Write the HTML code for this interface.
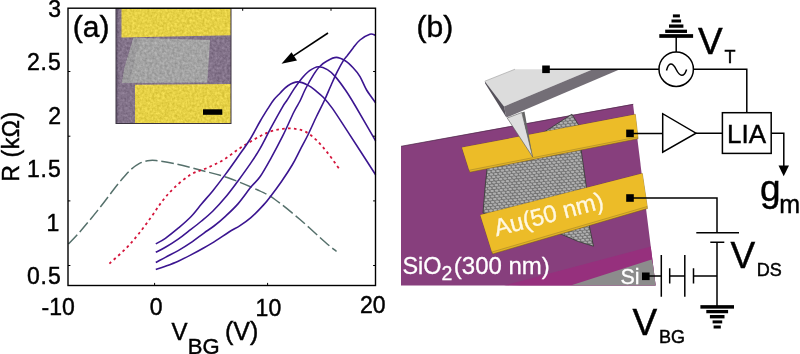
<!DOCTYPE html>
<html><head><meta charset="utf-8"><title>figure</title>
<style>html,body{margin:0;padding:0;background:#fff;}body{width:800px;height:354px;overflow:hidden;}svg{display:block;}</style>
</head><body>
<svg width="800" height="354" viewBox="0 0 800 354" font-family="'Liberation Sans', Arial, Helvetica, sans-serif">
<defs>
<filter id="noise" x="0" y="0" width="100%" height="100%" color-interpolation-filters="sRGB">
<feTurbulence type="fractalNoise" baseFrequency="0.4" numOctaves="2" seed="3" result="n"/>
<feColorMatrix in="n" type="matrix" values="1 0 0 0 0  1 0 0 0 0  1 0 0 0 0  0 0 0 0 1" result="g"/>
<feComposite in="SourceGraphic" in2="g" operator="arithmetic" k1="0" k2="1" k3="0.22" k4="-0.11"/>
</filter>
<clipPath id="insetclip"><rect x="116" y="8" width="115" height="115.5"/></clipPath>
<clipPath id="slabclip"><polygon points="401,146.2 633,104 655.6,285.5 401,285.5"/></clipPath>
</defs>
<style>text{stroke:#000;stroke-width:0.45px;paint-order:stroke;} text.w{stroke:#fff;stroke-width:0.3px;}</style>
<rect width="800" height="354" fill="#fff"/>
<g clip-path="url(#insetclip)" filter="url(#noise)">
<rect x="116" y="8" width="115" height="116" fill="#83738a"/>
<polygon points="121.5,8 231,8 231,35.2 121.5,37.6" fill="#e6d146"/>
<polygon points="133.6,37.8 210,40 207.3,82.5 122,83 124.5,68" fill="#a4a4a4"/>
<polygon points="133.6,37.8 140,38 129.5,83 122,83 124.5,68" fill="#9b9a9c"/>
<rect x="116" y="8" width="2.2" height="116" fill="#6f6078"/>
<polygon points="135,84.7 231,84 231,124 135,124" fill="#e6d146"/>
</g>
<rect x="116" y="8.5" width="115" height="115" fill="none" stroke="#3a3340" stroke-width="1"/>
<rect x="203" y="109.3" width="19.3" height="5.5" fill="#000"/>
<path d="M68.5,244.0 C70.4,242.0 76.5,235.6 79.8,231.9 C83.1,228.2 85.4,225.4 88.2,222.0 C91.0,218.6 93.9,215.1 96.7,211.6 C99.5,208.1 102.4,204.5 105.2,200.8 C108.0,197.1 110.9,193.1 113.7,189.5 C116.5,185.9 119.3,182.4 122.1,179.1 C124.9,175.8 127.8,172.4 130.6,169.8 C133.4,167.2 136.3,165.1 139.1,163.6 C141.9,162.1 144.8,161.2 147.6,160.7 C150.4,160.2 151.6,160.0 156.0,160.5 C160.4,161.0 166.5,161.9 174.0,163.5 C181.5,165.1 192.0,167.9 201.0,170.3 C210.0,172.7 218.5,174.5 228.0,177.8 C237.5,181.1 250.0,186.4 257.8,190.0 C265.6,193.6 268.0,194.6 275.0,199.5 C282.0,204.4 291.7,212.4 300.0,219.5 C308.3,226.6 318.9,236.7 325.0,242.0 C331.1,247.3 334.6,249.9 336.5,251.5" fill="none" stroke="#55706b" stroke-width="1.5" stroke-dasharray="12.5 3.8"/>
<path d="M109.4,263.6 C112.1,261.2 120.6,253.8 125.4,249.0 C130.2,244.2 133.9,239.8 138.2,234.5 C142.4,229.2 146.9,223.0 150.9,217.5 C154.9,212.0 158.2,206.4 162.0,201.5 C165.8,196.6 169.2,192.5 174.0,188.0 C178.8,183.5 185.5,177.7 191.0,174.4 C196.5,171.1 201.5,170.5 207.0,168.0 C212.5,165.5 218.4,162.9 224.0,159.5 C229.6,156.1 234.8,151.5 240.8,147.6 C246.8,143.7 254.9,138.9 260.0,136.2 C265.1,133.5 267.5,132.4 271.3,131.2 C275.1,130.0 278.8,129.3 282.6,128.9 C286.4,128.5 290.1,128.2 293.9,128.7 C297.7,129.1 301.4,129.7 305.2,131.6 C309.0,133.5 312.7,136.6 316.5,140.2 C320.3,143.8 324.0,148.3 327.8,153.1 C331.6,157.9 337.5,166.5 339.4,169.2" fill="none" stroke="#d4143a" stroke-width="1.8" stroke-dasharray="2.6 3.3"/>
<path d="M155.8,243.9 C157.4,243.0 161.7,240.9 165.4,238.3 C169.1,235.7 173.9,231.8 178.2,228.2 C182.4,224.6 187.0,220.7 190.9,216.7 C194.8,212.7 197.9,208.3 201.5,204.0 C205.1,199.7 208.7,195.8 212.7,190.9 C216.7,186.0 221.2,180.1 225.4,174.4 C229.7,168.7 234.2,162.2 238.2,156.5 C242.2,150.8 246.0,145.8 249.6,140.0 C253.2,134.2 256.8,127.0 260.0,121.5 C263.2,116.0 266.7,110.5 269.0,106.8 C271.3,103.1 272.2,101.8 274.0,99.5 C275.8,97.2 277.7,95.5 280.0,93.2 C282.3,90.9 284.9,87.6 287.9,85.7 C290.9,83.8 294.5,82.0 297.8,81.9 C301.1,81.8 304.7,83.6 307.7,85.1 C310.7,86.5 313.0,88.5 315.6,90.6 C318.2,92.7 320.7,94.5 323.5,97.5 C326.3,100.5 328.3,102.6 332.4,108.4 C336.5,114.2 341.0,121.4 348.2,132.4 C355.4,143.4 371.0,167.6 375.6,174.7" fill="none" stroke="#3b1590" stroke-width="1.6"/>
<path d="M155.8,252.3 C157.4,251.5 161.7,249.5 165.4,247.3 C169.1,245.1 173.9,242.1 178.2,239.1 C182.4,236.1 187.0,232.4 190.9,229.4 C194.8,226.4 197.9,224.0 201.5,221.0 C205.1,218.0 208.7,215.1 212.7,211.2 C216.7,207.2 221.2,202.4 225.4,197.3 C229.7,192.2 233.9,186.4 238.2,180.7 C242.4,175.0 247.3,168.2 250.9,162.9 C254.5,157.6 256.6,154.6 260.0,148.6 C263.4,142.6 267.5,134.1 271.3,127.1 C275.1,120.1 280.1,111.1 282.6,106.8 C285.1,102.5 284.6,103.9 286.5,101.0 C288.4,98.1 291.3,93.2 293.8,89.4 C296.3,85.7 299.1,81.6 301.7,78.5 C304.3,75.4 306.8,72.6 309.6,70.6 C312.4,68.6 315.5,66.9 318.5,66.7 C321.5,66.5 324.6,67.9 327.4,69.6 C330.2,71.2 332.3,73.2 335.3,76.6 C338.3,80.0 342.1,85.2 345.4,90.0 C348.7,94.8 350.1,97.0 355.1,105.5 C360.1,114.0 372.2,134.9 375.6,140.8" fill="none" stroke="#3b1590" stroke-width="1.6"/>
<path d="M155.8,262.5 C157.4,261.6 161.7,259.4 165.4,257.4 C169.1,255.4 173.9,253.0 178.2,250.6 C182.4,248.2 186.7,245.6 190.9,242.7 C195.1,239.8 199.8,236.1 203.6,233.3 C207.4,230.5 210.4,228.8 214.0,226.0 C217.6,223.2 221.4,220.0 225.4,216.3 C229.4,212.6 233.9,208.5 238.2,203.6 C242.4,198.7 247.3,191.6 250.9,187.1 C254.5,182.6 256.6,181.7 260.0,176.8 C263.4,171.9 267.5,164.4 271.3,157.6 C275.1,150.8 278.8,143.8 282.6,136.2 C286.4,128.6 291.0,117.9 293.9,112.0 C296.8,106.1 298.0,104.9 300.0,101.0 C302.0,97.1 303.4,92.9 305.7,88.5 C308.0,84.1 311.3,78.2 313.6,74.6 C315.9,71.0 317.2,69.0 319.5,66.7 C321.8,64.4 324.6,62.3 327.4,60.8 C330.2,59.2 333.3,57.4 336.3,57.4 C339.3,57.4 342.4,59.1 345.2,60.8 C348.0,62.5 350.6,65.1 353.1,67.7 C355.6,70.3 357.8,72.9 360.0,76.6 C362.2,80.3 364.0,85.7 366.6,90.0 C369.2,94.3 374.1,100.6 375.6,102.7" fill="none" stroke="#3b1590" stroke-width="1.6"/>
<path d="M155.8,269.4 C157.4,268.9 161.7,267.7 165.4,266.3 C169.1,264.9 173.9,263.1 178.2,261.2 C182.4,259.3 186.7,257.1 190.9,254.9 C195.1,252.7 199.4,250.4 203.6,248.0 C207.8,245.6 212.1,243.1 216.3,240.4 C220.5,237.7 225.1,234.5 229.0,232.0 C232.9,229.5 236.3,228.0 240.0,225.6 C243.7,223.2 247.0,221.0 250.9,217.6 C254.8,214.2 260.1,208.8 263.6,204.9 C267.1,201.1 269.0,198.4 272.0,194.5 C275.0,190.6 278.1,186.4 281.5,181.5 C284.9,176.6 289.1,170.2 292.2,165.0 C295.3,159.8 297.4,155.1 300.0,150.1 C302.6,145.1 305.1,140.6 307.9,135.0 C310.6,129.4 313.8,122.2 316.5,116.5 C319.2,110.8 321.9,105.8 324.4,100.5 C326.9,95.2 329.2,89.3 331.4,84.5 C333.5,79.7 335.3,75.5 337.3,71.6 C339.3,67.6 341.6,63.4 343.2,60.8 C344.8,58.2 345.5,57.9 347.2,55.8 C348.9,53.6 351.0,50.5 353.1,47.9 C355.2,45.3 357.2,42.3 360.0,40.0 C362.8,37.7 367.3,35.0 369.9,34.2 C372.5,33.4 374.7,35.2 375.6,35.4" fill="none" stroke="#3b1590" stroke-width="1.6"/>
<rect x="68" y="8.2" width="307.5" height="277.3" fill="none" stroke="#000" stroke-width="1.4"/>
<path d="M68,71.5 h2.4 M375.5,71.5 h-2.4 M68,136.2 h2.4 M375.5,136.2 h-2.4 M68,200.9 h2.4 M375.5,200.9 h-2.4 M68,265.5 h2.4 M375.5,265.5 h-2.4 M154.6,285.5 v-2.6 M267.6,285.5 v-2.6 M242.7,8.2 v2.6 M331.0,8.2 v2.6" stroke="#000" stroke-width="1" fill="none"/>
<path d="M328,33 L290,58.2" stroke="#000" stroke-width="1.6" fill="none"/>
<polygon points="281.5,63.8 291.5,52.2 297,60.5" fill="#000"/>
<text x="61.0" y="17.3" font-size="23" text-anchor="end" letter-spacing="0.0">3</text>
<text x="61.6" y="70.4" font-size="23" text-anchor="end" letter-spacing="0.9">2.5</text>
<text x="61.0" y="124.0" font-size="23" text-anchor="end" letter-spacing="0.0">2</text>
<text x="61.6" y="177.4" font-size="23" text-anchor="end" letter-spacing="0.9">1.5</text>
<text x="59.2" y="230.8" font-size="23" text-anchor="end" letter-spacing="0.0">1</text>
<text x="61.6" y="284.3" font-size="23" text-anchor="end" letter-spacing="0.9">0.5</text>
<text x="58.2" y="315.0" font-size="23" text-anchor="middle">-10</text>
<text x="156.2" y="315.0" font-size="23" text-anchor="middle">0</text>
<text x="268.4" y="315.6" font-size="23" text-anchor="middle">10</text>
<text x="372.7" y="312.8" font-size="23" text-anchor="middle">20</text>
<text x="72.8" y="37" font-size="30">(a)</text>
<text transform="translate(19.2,181.8) rotate(-90)" font-size="23" letter-spacing="0.6">R (kΩ)</text>
<text x="171.5" y="339.8" font-size="24">V</text>
<text x="187.8" y="354" font-size="22">BG</text>
<text x="225" y="340" font-size="25">(V)</text>
<text x="416.5" y="37" font-size="30">(b)</text>
<g clip-path="url(#slabclip)">
<rect x="395" y="100" width="270" height="190" fill="#873f7d"/>
<polygon points="651,246.5 504,285.5 660,290" fill="#96307d"/>
<polygon points="651.6,259.6 570.6,285.5 660,290" fill="#8c8c8c"/>
</g>
<path d="M401,146.3 L633.3,104.3" stroke="#4d2a49" stroke-width="0.7" fill="none"/>
<clipPath id="gclip"><polygon points="571.9,114.2 578.6,125.0 581.0,149.0 586.5,188.0 589.3,226.0 593.5,246.2 578.4,241.5 560.0,233.7 483.0,213.0 485.3,185.0 487.2,168.0 547.4,130.0"/></clipPath>
<polygon points="571.9,114.2 578.6,125.0 581.0,149.0 586.5,188.0 589.3,226.0 593.5,246.2 578.4,241.5 560.0,233.7 483.0,213.0 485.3,185.0 487.2,168.0 547.4,130.0" fill="#727272"/>
<path clip-path="url(#gclip)" d="M569.94,113.67l1,-1.1h2l1,1.1l-1,1.1h-2zM563.33,117.11l1,-1.1h2l1,1.1l-1,1.1h-2zM567.83,116.66l1,-1.1h2l1,1.1l-1,1.1h-2zM572.33,116.21l1,-1.1h2l1,1.1l-1,1.1h-2zM561.22,120.09l1,-1.1h2l1,1.1l-1,1.1h-2zM565.72,119.65l1,-1.1h2l1,1.1l-1,1.1h-2zM570.22,119.19l1,-1.1h2l1,1.1l-1,1.1h-2zM554.60,123.53l1,-1.1h2l1,1.1l-1,1.1h-2zM559.10,123.08l1,-1.1h2l1,1.1l-1,1.1h-2zM563.60,122.63l1,-1.1h2l1,1.1l-1,1.1h-2zM568.10,122.18l1,-1.1h2l1,1.1l-1,1.1h-2zM572.60,121.73l1,-1.1h2l1,1.1l-1,1.1h-2zM547.99,126.97l1,-1.1h2l1,1.1l-1,1.1h-2zM552.49,126.51l1,-1.1h2l1,1.1l-1,1.1h-2zM556.99,126.06l1,-1.1h2l1,1.1l-1,1.1h-2zM561.49,125.62l1,-1.1h2l1,1.1l-1,1.1h-2zM565.99,125.16l1,-1.1h2l1,1.1l-1,1.1h-2zM570.49,124.72l1,-1.1h2l1,1.1l-1,1.1h-2zM574.99,124.26l1,-1.1h2l1,1.1l-1,1.1h-2zM545.88,129.95l1,-1.1h2l1,1.1l-1,1.1h-2zM550.38,129.50l1,-1.1h2l1,1.1l-1,1.1h-2zM554.88,129.05l1,-1.1h2l1,1.1l-1,1.1h-2zM559.38,128.60l1,-1.1h2l1,1.1l-1,1.1h-2zM563.88,128.15l1,-1.1h2l1,1.1l-1,1.1h-2zM568.38,127.70l1,-1.1h2l1,1.1l-1,1.1h-2zM539.27,133.38l1,-1.1h2l1,1.1l-1,1.1h-2zM562.87,153.22l1,-1.1h2l1,1.1l-1,1.1h-2zM567.37,152.76l1,-1.1h2l1,1.1l-1,1.1h-2zM571.87,152.31l1,-1.1h2l1,1.1l-1,1.1h-2zM576.37,151.87l1,-1.1h2l1,1.1l-1,1.1h-2zM533.76,158.90l1,-1.1h2l1,1.1l-1,1.1h-2zM538.26,158.45l1,-1.1h2l1,1.1l-1,1.1h-2zM542.76,158.00l1,-1.1h2l1,1.1l-1,1.1h-2zM547.26,157.55l1,-1.1h2l1,1.1l-1,1.1h-2zM551.76,157.10l1,-1.1h2l1,1.1l-1,1.1h-2zM556.26,156.65l1,-1.1h2l1,1.1l-1,1.1h-2zM560.76,156.20l1,-1.1h2l1,1.1l-1,1.1h-2zM565.26,155.75l1,-1.1h2l1,1.1l-1,1.1h-2zM569.76,155.30l1,-1.1h2l1,1.1l-1,1.1h-2zM574.26,154.85l1,-1.1h2l1,1.1l-1,1.1h-2zM578.76,154.40l1,-1.1h2l1,1.1l-1,1.1h-2zM504.65,164.58l1,-1.1h2l1,1.1l-1,1.1h-2zM509.15,164.13l1,-1.1h2l1,1.1l-1,1.1h-2zM513.65,163.69l1,-1.1h2l1,1.1l-1,1.1h-2zM518.15,163.24l1,-1.1h2l1,1.1l-1,1.1h-2zM522.65,162.78l1,-1.1h2l1,1.1l-1,1.1h-2zM527.15,162.33l1,-1.1h2l1,1.1l-1,1.1h-2zM531.65,161.88l1,-1.1h2l1,1.1l-1,1.1h-2zM536.15,161.44l1,-1.1h2l1,1.1l-1,1.1h-2zM540.65,160.99l1,-1.1h2l1,1.1l-1,1.1h-2zM545.15,160.53l1,-1.1h2l1,1.1l-1,1.1h-2zM549.65,160.08l1,-1.1h2l1,1.1l-1,1.1h-2zM554.15,159.63l1,-1.1h2l1,1.1l-1,1.1h-2zM558.65,159.19l1,-1.1h2l1,1.1l-1,1.1h-2zM563.15,158.74l1,-1.1h2l1,1.1l-1,1.1h-2zM567.65,158.28l1,-1.1h2l1,1.1l-1,1.1h-2zM572.15,157.83l1,-1.1h2l1,1.1l-1,1.1h-2zM576.65,157.38l1,-1.1h2l1,1.1l-1,1.1h-2zM581.15,156.94l1,-1.1h2l1,1.1l-1,1.1h-2zM484.54,169.37l1,-1.1h2l1,1.1l-1,1.1h-2zM489.04,168.92l1,-1.1h2l1,1.1l-1,1.1h-2zM493.54,168.47l1,-1.1h2l1,1.1l-1,1.1h-2zM498.04,168.02l1,-1.1h2l1,1.1l-1,1.1h-2zM502.54,167.57l1,-1.1h2l1,1.1l-1,1.1h-2zM507.04,167.12l1,-1.1h2l1,1.1l-1,1.1h-2zM511.54,166.67l1,-1.1h2l1,1.1l-1,1.1h-2zM516.04,166.22l1,-1.1h2l1,1.1l-1,1.1h-2zM520.54,165.77l1,-1.1h2l1,1.1l-1,1.1h-2zM525.04,165.32l1,-1.1h2l1,1.1l-1,1.1h-2zM529.54,164.87l1,-1.1h2l1,1.1l-1,1.1h-2zM534.04,164.42l1,-1.1h2l1,1.1l-1,1.1h-2zM538.54,163.97l1,-1.1h2l1,1.1l-1,1.1h-2zM543.04,163.52l1,-1.1h2l1,1.1l-1,1.1h-2zM547.54,163.07l1,-1.1h2l1,1.1l-1,1.1h-2zM552.04,162.62l1,-1.1h2l1,1.1l-1,1.1h-2zM556.54,162.17l1,-1.1h2l1,1.1l-1,1.1h-2zM561.04,161.72l1,-1.1h2l1,1.1l-1,1.1h-2zM565.54,161.27l1,-1.1h2l1,1.1l-1,1.1h-2zM570.04,160.82l1,-1.1h2l1,1.1l-1,1.1h-2zM574.54,160.37l1,-1.1h2l1,1.1l-1,1.1h-2zM579.04,159.92l1,-1.1h2l1,1.1l-1,1.1h-2zM486.92,171.91l1,-1.1h2l1,1.1l-1,1.1h-2zM491.42,171.45l1,-1.1h2l1,1.1l-1,1.1h-2zM495.92,171.00l1,-1.1h2l1,1.1l-1,1.1h-2zM500.42,170.56l1,-1.1h2l1,1.1l-1,1.1h-2zM504.92,170.10l1,-1.1h2l1,1.1l-1,1.1h-2zM509.42,169.66l1,-1.1h2l1,1.1l-1,1.1h-2zM513.92,169.20l1,-1.1h2l1,1.1l-1,1.1h-2zM518.42,168.75l1,-1.1h2l1,1.1l-1,1.1h-2zM522.92,168.31l1,-1.1h2l1,1.1l-1,1.1h-2zM527.42,167.85l1,-1.1h2l1,1.1l-1,1.1h-2zM531.92,167.41l1,-1.1h2l1,1.1l-1,1.1h-2zM536.42,166.95l1,-1.1h2l1,1.1l-1,1.1h-2zM540.92,166.50l1,-1.1h2l1,1.1l-1,1.1h-2zM545.42,166.06l1,-1.1h2l1,1.1l-1,1.1h-2zM549.92,165.60l1,-1.1h2l1,1.1l-1,1.1h-2zM554.42,165.16l1,-1.1h2l1,1.1l-1,1.1h-2zM558.92,164.70l1,-1.1h2l1,1.1l-1,1.1h-2zM563.42,164.25l1,-1.1h2l1,1.1l-1,1.1h-2zM567.92,163.81l1,-1.1h2l1,1.1l-1,1.1h-2zM572.42,163.35l1,-1.1h2l1,1.1l-1,1.1h-2zM576.92,162.91l1,-1.1h2l1,1.1l-1,1.1h-2zM581.42,162.45l1,-1.1h2l1,1.1l-1,1.1h-2zM484.81,174.89l1,-1.1h2l1,1.1l-1,1.1h-2zM489.31,174.44l1,-1.1h2l1,1.1l-1,1.1h-2zM493.81,173.99l1,-1.1h2l1,1.1l-1,1.1h-2zM498.31,173.54l1,-1.1h2l1,1.1l-1,1.1h-2zM502.81,173.09l1,-1.1h2l1,1.1l-1,1.1h-2zM507.31,172.64l1,-1.1h2l1,1.1l-1,1.1h-2zM511.81,172.19l1,-1.1h2l1,1.1l-1,1.1h-2zM516.31,171.74l1,-1.1h2l1,1.1l-1,1.1h-2zM520.81,171.29l1,-1.1h2l1,1.1l-1,1.1h-2zM525.31,170.84l1,-1.1h2l1,1.1l-1,1.1h-2zM529.81,170.39l1,-1.1h2l1,1.1l-1,1.1h-2zM534.31,169.94l1,-1.1h2l1,1.1l-1,1.1h-2zM538.81,169.49l1,-1.1h2l1,1.1l-1,1.1h-2zM543.31,169.04l1,-1.1h2l1,1.1l-1,1.1h-2zM547.81,168.59l1,-1.1h2l1,1.1l-1,1.1h-2zM552.31,168.14l1,-1.1h2l1,1.1l-1,1.1h-2zM556.81,167.69l1,-1.1h2l1,1.1l-1,1.1h-2zM561.31,167.24l1,-1.1h2l1,1.1l-1,1.1h-2zM565.81,166.79l1,-1.1h2l1,1.1l-1,1.1h-2zM570.31,166.34l1,-1.1h2l1,1.1l-1,1.1h-2zM574.81,165.89l1,-1.1h2l1,1.1l-1,1.1h-2zM579.31,165.44l1,-1.1h2l1,1.1l-1,1.1h-2zM487.20,177.43l1,-1.1h2l1,1.1l-1,1.1h-2zM491.70,176.97l1,-1.1h2l1,1.1l-1,1.1h-2zM496.20,176.53l1,-1.1h2l1,1.1l-1,1.1h-2zM500.70,176.07l1,-1.1h2l1,1.1l-1,1.1h-2zM505.20,175.62l1,-1.1h2l1,1.1l-1,1.1h-2zM509.70,175.18l1,-1.1h2l1,1.1l-1,1.1h-2zM514.20,174.72l1,-1.1h2l1,1.1l-1,1.1h-2zM518.70,174.28l1,-1.1h2l1,1.1l-1,1.1h-2zM523.20,173.82l1,-1.1h2l1,1.1l-1,1.1h-2zM527.70,173.38l1,-1.1h2l1,1.1l-1,1.1h-2zM532.20,172.93l1,-1.1h2l1,1.1l-1,1.1h-2zM536.70,172.47l1,-1.1h2l1,1.1l-1,1.1h-2zM541.20,172.03l1,-1.1h2l1,1.1l-1,1.1h-2zM545.70,171.57l1,-1.1h2l1,1.1l-1,1.1h-2zM550.20,171.12l1,-1.1h2l1,1.1l-1,1.1h-2zM554.70,170.68l1,-1.1h2l1,1.1l-1,1.1h-2zM559.20,170.22l1,-1.1h2l1,1.1l-1,1.1h-2zM563.70,169.78l1,-1.1h2l1,1.1l-1,1.1h-2zM568.20,169.32l1,-1.1h2l1,1.1l-1,1.1h-2zM572.70,168.88l1,-1.1h2l1,1.1l-1,1.1h-2zM577.20,168.43l1,-1.1h2l1,1.1l-1,1.1h-2zM581.70,167.97l1,-1.1h2l1,1.1l-1,1.1h-2zM485.09,180.41l1,-1.1h2l1,1.1l-1,1.1h-2zM489.59,179.96l1,-1.1h2l1,1.1l-1,1.1h-2zM494.09,179.51l1,-1.1h2l1,1.1l-1,1.1h-2zM498.59,179.06l1,-1.1h2l1,1.1l-1,1.1h-2zM503.09,178.61l1,-1.1h2l1,1.1l-1,1.1h-2zM507.59,178.16l1,-1.1h2l1,1.1l-1,1.1h-2zM512.09,177.71l1,-1.1h2l1,1.1l-1,1.1h-2zM516.59,177.26l1,-1.1h2l1,1.1l-1,1.1h-2zM521.09,176.81l1,-1.1h2l1,1.1l-1,1.1h-2zM525.59,176.36l1,-1.1h2l1,1.1l-1,1.1h-2zM530.09,175.91l1,-1.1h2l1,1.1l-1,1.1h-2zM534.59,175.46l1,-1.1h2l1,1.1l-1,1.1h-2zM539.09,175.01l1,-1.1h2l1,1.1l-1,1.1h-2zM543.59,174.56l1,-1.1h2l1,1.1l-1,1.1h-2zM548.09,174.11l1,-1.1h2l1,1.1l-1,1.1h-2zM552.59,173.66l1,-1.1h2l1,1.1l-1,1.1h-2zM557.09,173.21l1,-1.1h2l1,1.1l-1,1.1h-2zM561.59,172.76l1,-1.1h2l1,1.1l-1,1.1h-2zM566.09,172.31l1,-1.1h2l1,1.1l-1,1.1h-2zM570.59,171.86l1,-1.1h2l1,1.1l-1,1.1h-2zM575.09,171.41l1,-1.1h2l1,1.1l-1,1.1h-2zM579.59,170.96l1,-1.1h2l1,1.1l-1,1.1h-2zM482.98,183.39l1,-1.1h2l1,1.1l-1,1.1h-2zM487.48,182.94l1,-1.1h2l1,1.1l-1,1.1h-2zM491.98,182.50l1,-1.1h2l1,1.1l-1,1.1h-2zM496.48,182.05l1,-1.1h2l1,1.1l-1,1.1h-2zM500.98,181.59l1,-1.1h2l1,1.1l-1,1.1h-2zM505.48,181.14l1,-1.1h2l1,1.1l-1,1.1h-2zM509.98,180.69l1,-1.1h2l1,1.1l-1,1.1h-2zM514.48,180.25l1,-1.1h2l1,1.1l-1,1.1h-2zM518.98,179.80l1,-1.1h2l1,1.1l-1,1.1h-2zM523.48,179.34l1,-1.1h2l1,1.1l-1,1.1h-2zM527.98,178.89l1,-1.1h2l1,1.1l-1,1.1h-2zM532.48,178.44l1,-1.1h2l1,1.1l-1,1.1h-2zM536.98,178.00l1,-1.1h2l1,1.1l-1,1.1h-2zM541.48,177.55l1,-1.1h2l1,1.1l-1,1.1h-2zM545.98,177.09l1,-1.1h2l1,1.1l-1,1.1h-2zM550.48,176.64l1,-1.1h2l1,1.1l-1,1.1h-2zM554.98,176.19l1,-1.1h2l1,1.1l-1,1.1h-2zM559.48,175.75l1,-1.1h2l1,1.1l-1,1.1h-2zM563.98,175.30l1,-1.1h2l1,1.1l-1,1.1h-2zM568.48,174.84l1,-1.1h2l1,1.1l-1,1.1h-2zM572.98,174.39l1,-1.1h2l1,1.1l-1,1.1h-2zM577.48,173.94l1,-1.1h2l1,1.1l-1,1.1h-2zM581.98,173.50l1,-1.1h2l1,1.1l-1,1.1h-2zM485.36,185.93l1,-1.1h2l1,1.1l-1,1.1h-2zM489.86,185.48l1,-1.1h2l1,1.1l-1,1.1h-2zM494.36,185.03l1,-1.1h2l1,1.1l-1,1.1h-2zM498.86,184.58l1,-1.1h2l1,1.1l-1,1.1h-2zM503.36,184.13l1,-1.1h2l1,1.1l-1,1.1h-2zM507.86,183.68l1,-1.1h2l1,1.1l-1,1.1h-2zM512.36,183.23l1,-1.1h2l1,1.1l-1,1.1h-2zM516.86,182.78l1,-1.1h2l1,1.1l-1,1.1h-2zM521.36,182.33l1,-1.1h2l1,1.1l-1,1.1h-2zM525.86,181.88l1,-1.1h2l1,1.1l-1,1.1h-2zM530.36,181.43l1,-1.1h2l1,1.1l-1,1.1h-2zM534.86,180.98l1,-1.1h2l1,1.1l-1,1.1h-2zM539.36,180.53l1,-1.1h2l1,1.1l-1,1.1h-2zM543.86,180.08l1,-1.1h2l1,1.1l-1,1.1h-2zM548.36,179.63l1,-1.1h2l1,1.1l-1,1.1h-2zM552.86,179.18l1,-1.1h2l1,1.1l-1,1.1h-2zM557.36,178.73l1,-1.1h2l1,1.1l-1,1.1h-2zM561.86,178.28l1,-1.1h2l1,1.1l-1,1.1h-2zM566.36,177.83l1,-1.1h2l1,1.1l-1,1.1h-2zM570.86,177.38l1,-1.1h2l1,1.1l-1,1.1h-2zM575.36,176.93l1,-1.1h2l1,1.1l-1,1.1h-2zM579.86,176.48l1,-1.1h2l1,1.1l-1,1.1h-2zM483.25,188.91l1,-1.1h2l1,1.1l-1,1.1h-2zM487.75,188.46l1,-1.1h2l1,1.1l-1,1.1h-2zM492.25,188.01l1,-1.1h2l1,1.1l-1,1.1h-2zM496.75,187.56l1,-1.1h2l1,1.1l-1,1.1h-2zM501.25,187.12l1,-1.1h2l1,1.1l-1,1.1h-2zM505.75,186.66l1,-1.1h2l1,1.1l-1,1.1h-2zM510.25,186.21l1,-1.1h2l1,1.1l-1,1.1h-2zM514.75,185.76l1,-1.1h2l1,1.1l-1,1.1h-2zM519.25,185.31l1,-1.1h2l1,1.1l-1,1.1h-2zM523.75,184.87l1,-1.1h2l1,1.1l-1,1.1h-2zM528.25,184.41l1,-1.1h2l1,1.1l-1,1.1h-2zM532.75,183.96l1,-1.1h2l1,1.1l-1,1.1h-2zM537.25,183.51l1,-1.1h2l1,1.1l-1,1.1h-2zM541.75,183.06l1,-1.1h2l1,1.1l-1,1.1h-2zM546.25,182.62l1,-1.1h2l1,1.1l-1,1.1h-2zM550.75,182.16l1,-1.1h2l1,1.1l-1,1.1h-2zM555.25,181.71l1,-1.1h2l1,1.1l-1,1.1h-2zM559.75,181.26l1,-1.1h2l1,1.1l-1,1.1h-2zM564.25,180.81l1,-1.1h2l1,1.1l-1,1.1h-2zM568.75,180.37l1,-1.1h2l1,1.1l-1,1.1h-2zM573.25,179.91l1,-1.1h2l1,1.1l-1,1.1h-2zM577.75,179.46l1,-1.1h2l1,1.1l-1,1.1h-2zM582.25,179.01l1,-1.1h2l1,1.1l-1,1.1h-2zM485.64,191.45l1,-1.1h2l1,1.1l-1,1.1h-2zM490.14,191.00l1,-1.1h2l1,1.1l-1,1.1h-2zM494.64,190.55l1,-1.1h2l1,1.1l-1,1.1h-2zM499.14,190.10l1,-1.1h2l1,1.1l-1,1.1h-2zM503.64,189.65l1,-1.1h2l1,1.1l-1,1.1h-2zM508.14,189.20l1,-1.1h2l1,1.1l-1,1.1h-2zM512.64,188.75l1,-1.1h2l1,1.1l-1,1.1h-2zM517.14,188.30l1,-1.1h2l1,1.1l-1,1.1h-2zM521.64,187.85l1,-1.1h2l1,1.1l-1,1.1h-2zM526.14,187.40l1,-1.1h2l1,1.1l-1,1.1h-2zM530.64,186.95l1,-1.1h2l1,1.1l-1,1.1h-2zM535.14,186.50l1,-1.1h2l1,1.1l-1,1.1h-2zM539.64,186.05l1,-1.1h2l1,1.1l-1,1.1h-2zM544.14,185.60l1,-1.1h2l1,1.1l-1,1.1h-2zM548.64,185.15l1,-1.1h2l1,1.1l-1,1.1h-2zM553.14,184.70l1,-1.1h2l1,1.1l-1,1.1h-2zM557.64,184.25l1,-1.1h2l1,1.1l-1,1.1h-2zM562.14,183.80l1,-1.1h2l1,1.1l-1,1.1h-2zM566.64,183.35l1,-1.1h2l1,1.1l-1,1.1h-2zM571.14,182.90l1,-1.1h2l1,1.1l-1,1.1h-2zM575.64,182.45l1,-1.1h2l1,1.1l-1,1.1h-2zM580.14,182.00l1,-1.1h2l1,1.1l-1,1.1h-2zM584.64,181.55l1,-1.1h2l1,1.1l-1,1.1h-2zM483.53,194.44l1,-1.1h2l1,1.1l-1,1.1h-2zM488.03,193.98l1,-1.1h2l1,1.1l-1,1.1h-2zM492.53,193.53l1,-1.1h2l1,1.1l-1,1.1h-2zM497.03,193.08l1,-1.1h2l1,1.1l-1,1.1h-2zM501.53,192.63l1,-1.1h2l1,1.1l-1,1.1h-2zM506.03,192.19l1,-1.1h2l1,1.1l-1,1.1h-2zM510.53,191.73l1,-1.1h2l1,1.1l-1,1.1h-2zM515.03,191.28l1,-1.1h2l1,1.1l-1,1.1h-2zM519.53,190.83l1,-1.1h2l1,1.1l-1,1.1h-2zM524.03,190.38l1,-1.1h2l1,1.1l-1,1.1h-2zM528.53,189.94l1,-1.1h2l1,1.1l-1,1.1h-2zM533.03,189.48l1,-1.1h2l1,1.1l-1,1.1h-2zM537.53,189.03l1,-1.1h2l1,1.1l-1,1.1h-2zM542.03,188.58l1,-1.1h2l1,1.1l-1,1.1h-2zM546.53,188.13l1,-1.1h2l1,1.1l-1,1.1h-2zM551.03,187.69l1,-1.1h2l1,1.1l-1,1.1h-2zM555.53,187.23l1,-1.1h2l1,1.1l-1,1.1h-2zM560.03,186.78l1,-1.1h2l1,1.1l-1,1.1h-2zM564.53,186.33l1,-1.1h2l1,1.1l-1,1.1h-2zM569.03,185.88l1,-1.1h2l1,1.1l-1,1.1h-2zM573.53,185.44l1,-1.1h2l1,1.1l-1,1.1h-2zM578.03,184.98l1,-1.1h2l1,1.1l-1,1.1h-2zM582.53,184.53l1,-1.1h2l1,1.1l-1,1.1h-2zM481.42,197.42l1,-1.1h2l1,1.1l-1,1.1h-2zM485.92,196.97l1,-1.1h2l1,1.1l-1,1.1h-2zM490.42,196.52l1,-1.1h2l1,1.1l-1,1.1h-2zM494.92,196.07l1,-1.1h2l1,1.1l-1,1.1h-2zM499.42,195.62l1,-1.1h2l1,1.1l-1,1.1h-2zM503.92,195.17l1,-1.1h2l1,1.1l-1,1.1h-2zM508.42,194.72l1,-1.1h2l1,1.1l-1,1.1h-2zM512.92,194.27l1,-1.1h2l1,1.1l-1,1.1h-2zM517.42,193.82l1,-1.1h2l1,1.1l-1,1.1h-2zM521.92,193.37l1,-1.1h2l1,1.1l-1,1.1h-2zM526.42,192.92l1,-1.1h2l1,1.1l-1,1.1h-2zM530.92,192.47l1,-1.1h2l1,1.1l-1,1.1h-2zM535.42,192.02l1,-1.1h2l1,1.1l-1,1.1h-2zM539.92,191.57l1,-1.1h2l1,1.1l-1,1.1h-2zM544.42,191.12l1,-1.1h2l1,1.1l-1,1.1h-2zM548.92,190.67l1,-1.1h2l1,1.1l-1,1.1h-2zM553.42,190.22l1,-1.1h2l1,1.1l-1,1.1h-2zM557.92,189.77l1,-1.1h2l1,1.1l-1,1.1h-2zM562.42,189.32l1,-1.1h2l1,1.1l-1,1.1h-2zM566.92,188.87l1,-1.1h2l1,1.1l-1,1.1h-2zM571.42,188.42l1,-1.1h2l1,1.1l-1,1.1h-2zM575.92,187.97l1,-1.1h2l1,1.1l-1,1.1h-2zM580.42,187.52l1,-1.1h2l1,1.1l-1,1.1h-2zM584.92,187.07l1,-1.1h2l1,1.1l-1,1.1h-2zM483.80,199.95l1,-1.1h2l1,1.1l-1,1.1h-2zM488.30,199.50l1,-1.1h2l1,1.1l-1,1.1h-2zM492.80,199.06l1,-1.1h2l1,1.1l-1,1.1h-2zM497.30,198.61l1,-1.1h2l1,1.1l-1,1.1h-2zM501.80,198.16l1,-1.1h2l1,1.1l-1,1.1h-2zM506.30,197.70l1,-1.1h2l1,1.1l-1,1.1h-2zM510.80,197.25l1,-1.1h2l1,1.1l-1,1.1h-2zM515.30,196.81l1,-1.1h2l1,1.1l-1,1.1h-2zM519.80,196.36l1,-1.1h2l1,1.1l-1,1.1h-2zM524.30,195.91l1,-1.1h2l1,1.1l-1,1.1h-2zM528.80,195.45l1,-1.1h2l1,1.1l-1,1.1h-2zM533.30,195.00l1,-1.1h2l1,1.1l-1,1.1h-2zM537.80,194.56l1,-1.1h2l1,1.1l-1,1.1h-2zM542.30,194.11l1,-1.1h2l1,1.1l-1,1.1h-2zM546.80,193.66l1,-1.1h2l1,1.1l-1,1.1h-2zM551.30,193.20l1,-1.1h2l1,1.1l-1,1.1h-2zM555.80,192.75l1,-1.1h2l1,1.1l-1,1.1h-2zM560.30,192.31l1,-1.1h2l1,1.1l-1,1.1h-2zM564.80,191.86l1,-1.1h2l1,1.1l-1,1.1h-2zM569.30,191.41l1,-1.1h2l1,1.1l-1,1.1h-2zM573.80,190.95l1,-1.1h2l1,1.1l-1,1.1h-2zM481.69,202.94l1,-1.1h2l1,1.1l-1,1.1h-2zM486.19,202.49l1,-1.1h2l1,1.1l-1,1.1h-2zM490.69,202.04l1,-1.1h2l1,1.1l-1,1.1h-2zM495.19,201.59l1,-1.1h2l1,1.1l-1,1.1h-2zM499.69,201.14l1,-1.1h2l1,1.1l-1,1.1h-2zM504.19,200.69l1,-1.1h2l1,1.1l-1,1.1h-2zM508.69,200.24l1,-1.1h2l1,1.1l-1,1.1h-2zM513.19,199.79l1,-1.1h2l1,1.1l-1,1.1h-2zM517.69,199.34l1,-1.1h2l1,1.1l-1,1.1h-2zM522.19,198.89l1,-1.1h2l1,1.1l-1,1.1h-2zM526.69,198.44l1,-1.1h2l1,1.1l-1,1.1h-2zM531.19,197.99l1,-1.1h2l1,1.1l-1,1.1h-2zM535.69,197.54l1,-1.1h2l1,1.1l-1,1.1h-2zM540.19,197.09l1,-1.1h2l1,1.1l-1,1.1h-2zM544.69,196.64l1,-1.1h2l1,1.1l-1,1.1h-2zM549.19,196.19l1,-1.1h2l1,1.1l-1,1.1h-2zM553.69,195.74l1,-1.1h2l1,1.1l-1,1.1h-2zM558.19,195.29l1,-1.1h2l1,1.1l-1,1.1h-2zM484.08,205.47l1,-1.1h2l1,1.1l-1,1.1h-2zM488.58,205.02l1,-1.1h2l1,1.1l-1,1.1h-2zM493.08,204.57l1,-1.1h2l1,1.1l-1,1.1h-2zM497.58,204.12l1,-1.1h2l1,1.1l-1,1.1h-2zM502.08,203.68l1,-1.1h2l1,1.1l-1,1.1h-2zM506.58,203.22l1,-1.1h2l1,1.1l-1,1.1h-2zM511.08,202.77l1,-1.1h2l1,1.1l-1,1.1h-2zM515.58,202.32l1,-1.1h2l1,1.1l-1,1.1h-2zM520.08,201.88l1,-1.1h2l1,1.1l-1,1.1h-2zM524.58,201.43l1,-1.1h2l1,1.1l-1,1.1h-2zM529.08,200.97l1,-1.1h2l1,1.1l-1,1.1h-2zM533.58,200.52l1,-1.1h2l1,1.1l-1,1.1h-2zM538.08,200.07l1,-1.1h2l1,1.1l-1,1.1h-2zM542.58,199.62l1,-1.1h2l1,1.1l-1,1.1h-2zM481.97,208.46l1,-1.1h2l1,1.1l-1,1.1h-2zM486.47,208.01l1,-1.1h2l1,1.1l-1,1.1h-2zM490.97,207.56l1,-1.1h2l1,1.1l-1,1.1h-2zM495.47,207.11l1,-1.1h2l1,1.1l-1,1.1h-2zM499.97,206.66l1,-1.1h2l1,1.1l-1,1.1h-2zM504.47,206.21l1,-1.1h2l1,1.1l-1,1.1h-2zM508.97,205.76l1,-1.1h2l1,1.1l-1,1.1h-2zM513.47,205.31l1,-1.1h2l1,1.1l-1,1.1h-2zM517.97,204.86l1,-1.1h2l1,1.1l-1,1.1h-2zM522.47,204.41l1,-1.1h2l1,1.1l-1,1.1h-2zM484.36,211.00l1,-1.1h2l1,1.1l-1,1.1h-2zM488.86,210.54l1,-1.1h2l1,1.1l-1,1.1h-2zM493.36,210.09l1,-1.1h2l1,1.1l-1,1.1h-2zM497.86,209.64l1,-1.1h2l1,1.1l-1,1.1h-2zM502.36,209.19l1,-1.1h2l1,1.1l-1,1.1h-2zM506.86,208.75l1,-1.1h2l1,1.1l-1,1.1h-2zM482.24,213.98l1,-1.1h2l1,1.1l-1,1.1h-2zM486.74,213.53l1,-1.1h2l1,1.1l-1,1.1h-2zM582.35,226.16l1,-1.1h2l1,1.1l-1,1.1h-2zM586.85,225.71l1,-1.1h2l1,1.1l-1,1.1h-2zM571.24,230.05l1,-1.1h2l1,1.1l-1,1.1h-2zM575.74,229.59l1,-1.1h2l1,1.1l-1,1.1h-2zM580.24,229.14l1,-1.1h2l1,1.1l-1,1.1h-2zM584.74,228.69l1,-1.1h2l1,1.1l-1,1.1h-2zM560.12,233.93l1,-1.1h2l1,1.1l-1,1.1h-2zM564.62,233.48l1,-1.1h2l1,1.1l-1,1.1h-2zM569.12,233.03l1,-1.1h2l1,1.1l-1,1.1h-2zM573.62,232.58l1,-1.1h2l1,1.1l-1,1.1h-2zM578.12,232.13l1,-1.1h2l1,1.1l-1,1.1h-2zM582.62,231.68l1,-1.1h2l1,1.1l-1,1.1h-2zM587.12,231.23l1,-1.1h2l1,1.1l-1,1.1h-2zM562.51,236.46l1,-1.1h2l1,1.1l-1,1.1h-2zM567.01,236.01l1,-1.1h2l1,1.1l-1,1.1h-2zM571.51,235.56l1,-1.1h2l1,1.1l-1,1.1h-2zM576.01,235.11l1,-1.1h2l1,1.1l-1,1.1h-2zM580.51,234.66l1,-1.1h2l1,1.1l-1,1.1h-2zM585.01,234.21l1,-1.1h2l1,1.1l-1,1.1h-2zM589.51,233.76l1,-1.1h2l1,1.1l-1,1.1h-2zM569.40,238.55l1,-1.1h2l1,1.1l-1,1.1h-2zM573.90,238.10l1,-1.1h2l1,1.1l-1,1.1h-2zM578.40,237.65l1,-1.1h2l1,1.1l-1,1.1h-2zM582.90,237.20l1,-1.1h2l1,1.1l-1,1.1h-2zM587.40,236.75l1,-1.1h2l1,1.1l-1,1.1h-2zM576.29,240.63l1,-1.1h2l1,1.1l-1,1.1h-2zM580.79,240.19l1,-1.1h2l1,1.1l-1,1.1h-2zM585.29,239.73l1,-1.1h2l1,1.1l-1,1.1h-2zM589.79,239.28l1,-1.1h2l1,1.1l-1,1.1h-2zM578.68,243.17l1,-1.1h2l1,1.1l-1,1.1h-2zM583.18,242.72l1,-1.1h2l1,1.1l-1,1.1h-2zM587.68,242.27l1,-1.1h2l1,1.1l-1,1.1h-2zM585.56,245.25l1,-1.1h2l1,1.1l-1,1.1h-2zM590.06,244.81l1,-1.1h2l1,1.1l-1,1.1h-2zM592.45,247.34l1,-1.1h2l1,1.1l-1,1.1h-2z" fill="#aeaeae"/>
<polygon points="571.9,114.2 578.6,125.0 581.0,149.0 586.5,188.0 589.3,226.0 593.5,246.2 578.4,241.5 560.0,233.7 483.0,213.0 485.3,185.0 487.2,168.0 547.4,130.0" fill="none" stroke="#3c3c3c" stroke-width="0.9"/>
<polygon points="462,147.6 635.3,114.4 638.1,138.7 469.8,172.2" fill="#e2b425" stroke="#6e5220" stroke-width="0.5"/>
<polygon points="462,147.6 635.3,114.4 637.9,136.9 469.3,170.2" fill="#ecbc28"/>
<path d="M469.3,170.2 L637.9,136.9" stroke="#a3852c" stroke-width="0.6" fill="none"/>
<polygon points="480.4,215.1 642.3,173.5 647.5,208.5 492.6,254" fill="#e2b425" stroke="#6e5220" stroke-width="0.5"/>
<polygon points="480.4,215.1 642.3,173.5 647.2,206.5 492,252" fill="#ecbc28"/>
<path d="M492,252 L647.2,206.5" stroke="#a3852c" stroke-width="0.6" fill="none"/>
<text transform="translate(496.5,236.3) rotate(-14.6)" font-size="24" fill="#fff8e0" class="w">Au(50 nm)</text>
<text x="402.5" y="273.8" font-size="23.4" fill="#fff" class="w">SiO<tspan font-size="19.5" dy="6.3">2</tspan></text><text x="453.8" y="273.8" font-size="24" fill="#fff" class="w">(300 nm)</text>
<text x="620.5" y="284.4" font-size="21.5" fill="#fff" class="w">Si</text>
<polygon points="484.8,81.2 515,69.2 593,69.2 504,106.4" fill="#dcdcdc"/>
<polygon points="504,106.4 593,69.2 620,69.2 506.4,117.6" fill="#736e76"/>
<polygon points="484.8,81.2 504,106.4 506.4,117.6 485.2,83.6" fill="#55515a"/>
<path d="M484.8,81.2 L515,69.2" stroke="#999" stroke-width="0.6"/>
<polygon points="507.2,118 521.8,112.5 532.7,157" fill="#dedede" stroke="#555" stroke-width="0.6"/>
<polygon points="521.8,112.5 524.5,111.5 532.7,157" fill="#666"/>
<path d="M546,69.2 H659 M693.4,69.2 H746.8 V112.7 M676.2,52 V36 M630,133.4 H662.7 M696,133.2 H722.4 M771.2,133.2 H783.8 V167 M630,198 H717 V232.8 M717,242.3 V306 M646,276 H661.3 M669.7,276 H684.8 M693.5,276 H717 M661.3,255 V296.7 M684.8,255 V296.7 M669.7,268.3 V283.4 M693.5,268.3 V283.4 M696.3,232.8 H739 M710.3,242.3 H724.3" stroke="#000" stroke-width="1.5" fill="none"/>
<circle cx="676.2" cy="69.2" r="17.2" fill="#fff" stroke="#000" stroke-width="1.5"/>
<path d="M666.5,70.5 C668.5,62 672.5,62 676.2,69.5 C679.9,77 684,77.5 686.6,69.5" stroke="#000" stroke-width="1.5" fill="none"/>
<polygon points="662.7,113.7 662.7,152.2 696,133.2" fill="#fff" stroke="#000" stroke-width="1.5"/>
<rect x="722.4" y="112.7" width="48.8" height="40.7" fill="#fff" stroke="#000" stroke-width="1.5"/>
<text x="727" y="142.5" font-size="26">LIA</text>
<polygon points="783.7,176.2 778.5,165.5 789,165.5" fill="#000"/>
<rect x="659.3" y="34.15" width="33.8" height="3.7" fill="#000"/>
<rect x="665.2" y="29.65" width="21.8" height="3.3" fill="#000"/>
<rect x="669.0" y="24.45" width="14.4" height="3.3" fill="#000"/>
<rect x="671.5" y="19.50" width="9.6" height="3.0" fill="#000"/>
<rect x="672.9" y="14.40" width="7.0" height="3.0" fill="#000"/>
<rect x="700.4" y="305.15" width="33.6" height="3.5" fill="#000"/>
<rect x="706.3" y="309.95" width="21.8" height="3.3" fill="#000"/>
<rect x="709.9" y="315.00" width="14.6" height="3.4" fill="#000"/>
<rect x="712.6" y="320.40" width="9.6" height="3.0" fill="#000"/>
<rect x="713.6" y="325.50" width="7.2" height="3.0" fill="#000"/>
<rect x="542.2" y="65.5" width="7.6" height="7.6" fill="#000"/>
<rect x="626.2" y="129.6" width="7.6" height="7.6" fill="#000"/>
<rect x="626.2" y="194.2" width="7.6" height="7.6" fill="#000"/>
<rect x="642.0" y="272.5" width="7.6" height="7.6" fill="#000"/>
<text x="698" y="54.2" font-size="37">V</text><text x="724.5" y="62.7" font-size="18">T</text>
<text x="730.5" y="267.8" font-size="37">V</text><text x="756.8" y="275.5" font-size="18">DS</text>
<text x="632.5" y="335" font-size="37">V</text><text x="659" y="343" font-size="18">BG</text>
<text x="760" y="201.4" font-size="37">g</text><text x="779.3" y="213" font-size="25">m</text>
</svg>
</body></html>
